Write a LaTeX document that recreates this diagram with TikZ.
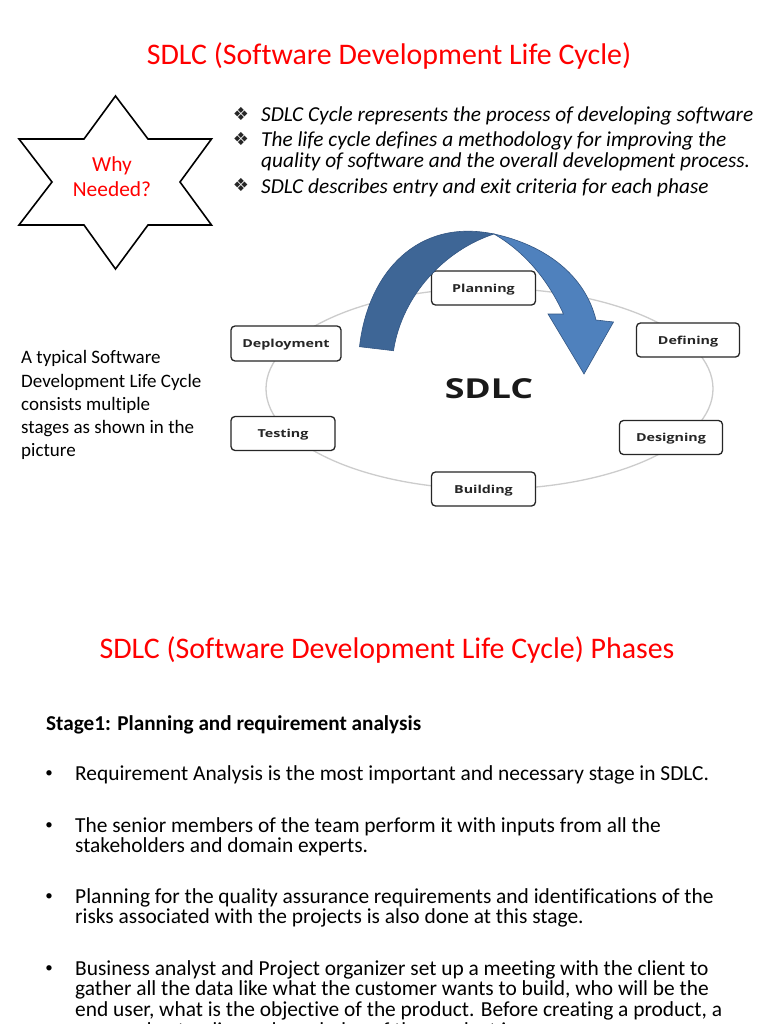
\documentclass[tikz,border=0pt]{standalone}
\usepackage{fontspec}
\setmainfont[Ligatures=NoCommon]{Carlito}
\newfontfamily\boxfont[FakeStretch=1.3]{Open Sans}
\newfontfamily\centerfont[FakeStretch=1.3]{Open Sans}
\newfontfamily\symfont{DejaVu Sans}
\definecolor{titlered}{RGB}{255,0,0}
\definecolor{arrowdark}{RGB}{62,102,150}
\definecolor{arrowlight}{RGB}{79,129,189}
\definecolor{arrowline}{RGB}{50,85,130}
\tikzset{
  x=1pt,y=-1pt,
  title/.style={text=titlered,font=\fontsize{29.9}{32}\selectfont,anchor=center,inner sep=0pt},
  phase/.style={draw=black!85,line width=1.3pt,rounded corners=4pt,fill=white,inner sep=0pt,
    text height=8pt,text depth=0pt,
    font=\boxfont\bfseries\fontsize{11}{12}\selectfont,text=black!85},
  para/.style={anchor=north west,align=left,inner sep=0pt,text=black,font=\fontsize{21.4}{20.7}\selectfont},
  ital/.style={para,font=\itshape\fontsize{21.3}{20.7}\selectfont},
  side/.style={para,font=\fontsize{19}{23.2}\selectfont},
  dot/.style={anchor=center,inner sep=0pt,font=\fontsize{15}{15}\selectfont},
  dia/.style={anchor=center,inner sep=0pt,font=\symfont\fontsize{18}{18}\selectfont,text=black!85},
}
\begin{document}
\begin{tikzpicture}
\useasboundingbox (0,0) rectangle (768,1024);
\fill[white] (0,0) rectangle (768,1024);
\node[title] (t1) at (389,55.5) {SDLC (Software Development Life Cycle)};
\node[title] (t2) at (387,649.5) {SDLC (Software Development Life Cycle) Phases};
% star
\draw[black,line width=1.6pt,line join=miter,fill=white]
  (115.5,96)--(148,139)--(211.5,139)--(180,182)--(211.5,225)--(148,225)--(115.5,269)
  --(84,225)--(19,225)--(52,182)--(19,139)--(84,139)--cycle;
\node[anchor=center,align=center,inner sep=0pt,text=titlered,font=\fontsize{21.4}{25}\selectfont] (why) at (112,177) {Why\\Needed?};
% bullets
\node[dia] (d1) at (241,114) {❖};
\node[ital] (b1) at (261,107) {SDLC Cycle represents the process of developing software};
\node[dia] (d2) at (241,139) {❖};
\node[ital] (b2) at (261,132) {The life cycle defines a methodology for improving the\\quality of software and the overall development process.};
\node[dia] (d3) at (241,185) {❖};
\node[ital] (b3) at (261,179) {SDLC describes entry and exit criteria for each phase};
% side text
\node[side] (s) at (21,350.5) {A typical Software\\Development Life Cycle\\consists multiple\\stages as shown in the\\picture};
% cycle
\draw[black!20,line width=1.3pt] (489.5,388.7) ellipse [x radius=223.5,y radius=100.5];
\node[phase,minimum width=104pt,minimum height=34pt] (plan) at (483.5,288) {Planning};
\node[phase,minimum width=103pt,minimum height=34pt] (defi) at (688,340) {Defining};
\node[phase,minimum width=103pt,minimum height=34pt] (desi) at (671,437.5) {Designing};
\node[phase,minimum width=104pt,minimum height=34pt] (buil) at (483.5,489) {Building};
\node[phase,minimum width=104pt,minimum height=34pt] (test) at (283,433.5) {Testing};
\node[phase,minimum width=110pt,minimum height=35pt] (depl) at (286,343.5) {Deployment};
\node[anchor=center,inner sep=0pt,text=black!90,font=\centerfont\bfseries\fontsize{27.5}{30}\selectfont] (sdlc) at (489,389) {SDLC};
% curved arrow
\fill[arrowlight,draw=arrowline,line width=.6pt]
  (494,234) .. controls (545,245) and (585,275) .. (596,320)
  -- (613.5,322) -- (584,374) -- (548,314) -- (563.5,314)
  .. controls (548,280) and (525,252) .. (494,234) -- cycle;
\fill[arrowdark,draw=arrowline,line width=.6pt]
  (359.5,346.7) .. controls (368,272) and (418,218) .. (494,234)
  .. controls (445,250) and (402,295) .. (393.5,350.7) -- cycle;
% body
\node[para,font=\bfseries\fontsize{21.2}{20.7}\selectfont] (st) at (46,715) {Stage1: Planning and requirement analysis};
\node[dot] (p1d) at (49,774) {•};
\node[para] (p1) at (75,765) {Requirement Analysis is the most important and necessary stage in SDLC.};
\node[dot] (p2d) at (49,826) {•};
\node[para] (p2) at (75,817) {The senior members of the team perform it with inputs from all the\\stakeholders and domain experts.};
\node[dot] (p3d) at (49,897) {•};
\node[para] (p3) at (75,888) {Planning for the quality assurance requirements and identifications of the\\risks associated with the projects is also done at this stage.};
\node[dot] (p4d) at (49,969) {•};
\node[para] (p4) at (75,960) {Business analyst and Project organizer set up a meeting with the client to\\gather all the data like what the customer wants to build, who will be the\\end user, what is the objective of the product. Before creating a product, a\\core understanding or knowledge of the product is};
\end{tikzpicture}
\end{document}
